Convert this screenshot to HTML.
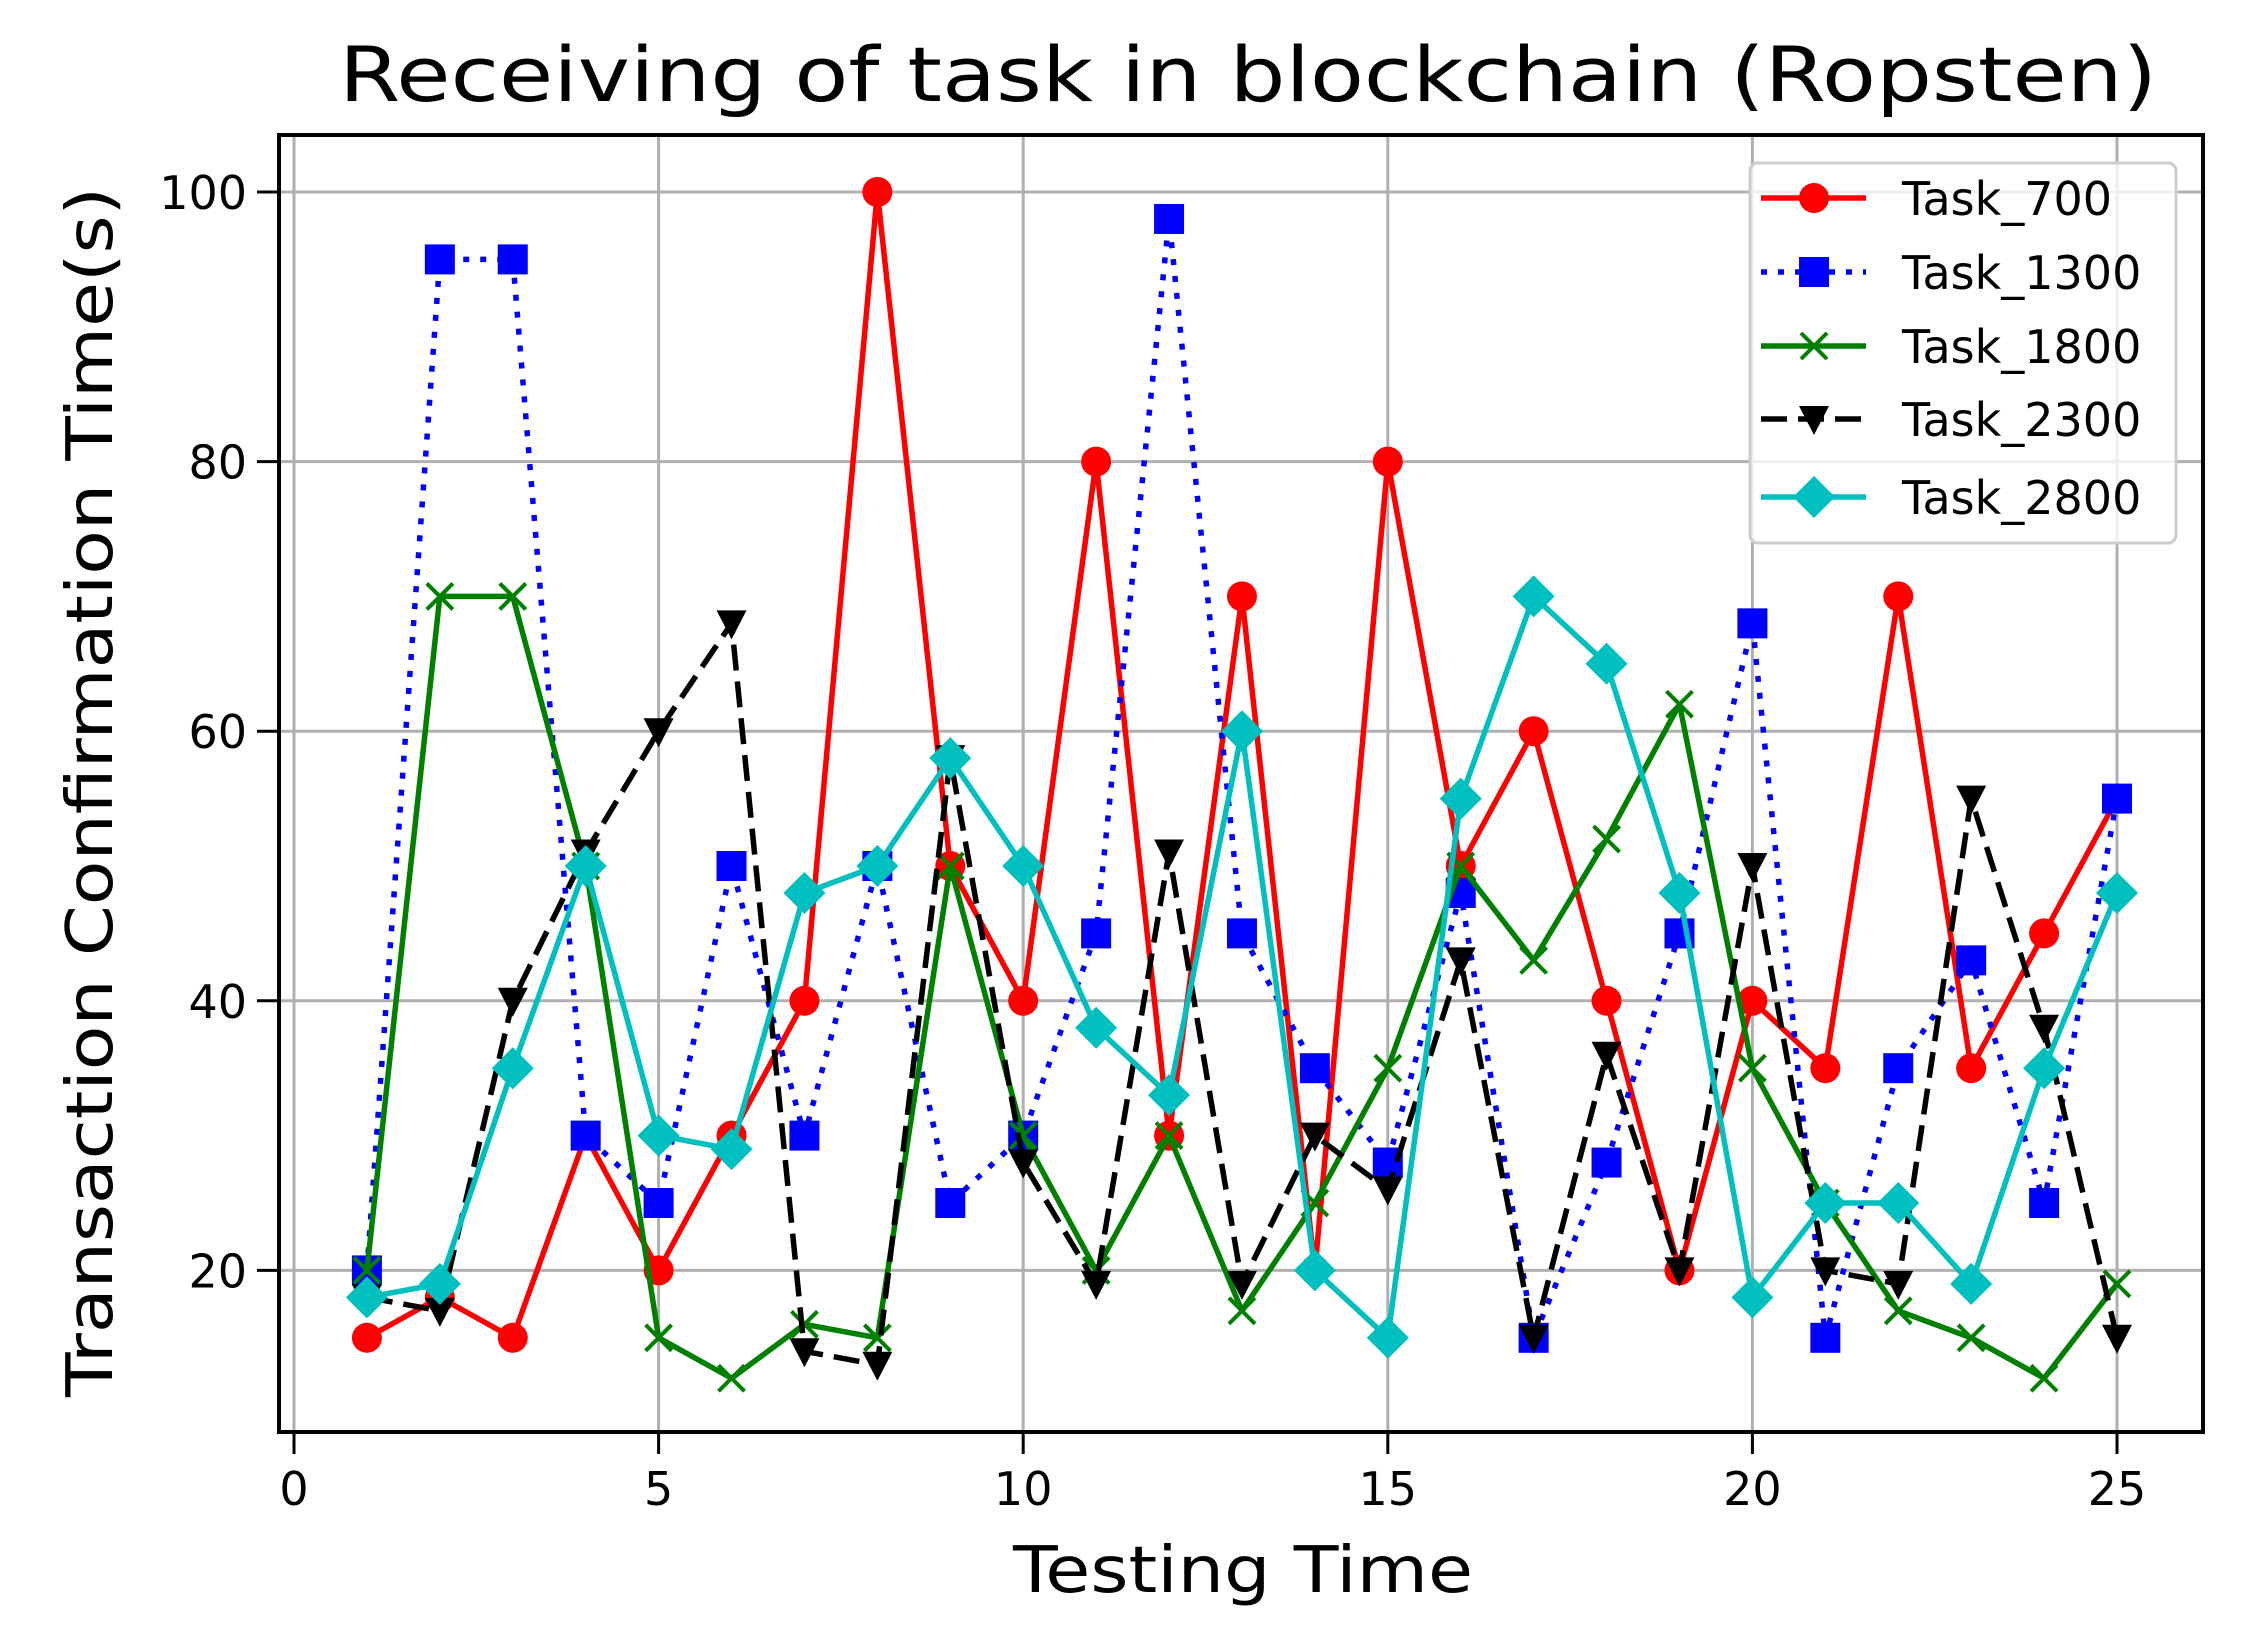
<!DOCTYPE html>
<html><head><meta charset="utf-8"><style>
html,body{margin:0;padding:0;background:#fff;}
svg{display:block;font-family:"DejaVu Sans","Liberation Sans",sans-serif;}
</style></head><body>
<svg id="s" width="2248" height="1626" viewBox="0 0 2248 1626" xmlns="http://www.w3.org/2000/svg">
<rect width="2248" height="1626" fill="#fff"/>
<text x="1248" y="101" font-size="76" text-anchor="middle" textLength="1818" lengthAdjust="spacingAndGlyphs">Receiving of task in blockchain (Ropsten)</text>
<g id="grid" stroke="#b0b0b0" stroke-width="3"></g>
<g id="series"></g>
<g id="axes"></g>
<text x="1243" y="1592" font-size="64" text-anchor="middle" textLength="460" lengthAdjust="spacingAndGlyphs">Testing Time</text>
<text transform="translate(112,792) rotate(-90)" font-size="64" text-anchor="middle" textLength="1210" lengthAdjust="spacingAndGlyphs">Transaction Confirmation Time(s)</text>
<g id="legend"></g>
</svg>
<script>
const NS="http://www.w3.org/2000/svg";
const X=v=>294+v*72.92, Y=v=>192+(100-v)*13.48;
const L=279,R=2203,T=135,B=1432;
function el(p,t,a,txt){const e=document.createElementNS(NS,t);for(const k in a)e.setAttribute(k,a[k]);if(txt!==undefined)e.textContent=txt;p.appendChild(e);return e;}
const g=document.getElementById('grid'),ax=document.getElementById('axes'),sr=document.getElementById('series'),lg=document.getElementById('legend');
for(let v=0;v<=25;v+=5){el(g,'line',{x1:X(v),x2:X(v),y1:T,y2:B});el(ax,'line',{x1:X(v),x2:X(v),y1:B,y2:B+22,stroke:'#000','stroke-width':3});el(ax,'text',{x:X(v),y:1505,'font-size':46,'text-anchor':'middle'},v);}
for(let v=20;v<=100;v+=20){el(g,'line',{x1:L,x2:R,y1:Y(v),y2:Y(v)});el(ax,'line',{x1:L-22,x2:L,y1:Y(v),y2:Y(v),stroke:'#000','stroke-width':3});el(ax,'text',{x:L-32,y:Y(v)+17,'font-size':46,'text-anchor':'end'},v);}
el(ax,'rect',{x:L,y:T,width:R-L,height:B-T,fill:'none',stroke:'#000','stroke-width':4});
const S=[
{n:'Task_700',c:'#ff0000',d:'',m:'o',v:[15,18,15,30,20,30,40,100,50,40,80,30,70,20,80,50,60,40,20,40,35,70,35,45,55]},
{n:'Task_1300',c:'#0000ff',d:'6 11',m:'s',v:[20,95,95,30,25,50,30,50,25,30,45,98,45,35,28,48,15,28,45,68,15,35,43,25,55]},
{n:'Task_1800',c:'#008000',d:'',m:'x',v:[20,70,70,50,15,12,16,15,50,30,20,30,17,25,35,50,43,52,62,35,25,17,15,12,19]},
{n:'Task_2300',c:'#000000',d:'26 11',m:'v',v:[18,17,40,51,60,68,14,13,58,28,19,51,19,30,26,43,15,36,20,50,20,19,55,38,15]},
{n:'Task_2800',c:'#00bfbf',d:'',m:'D',v:[18,19,35,50,30,29,48,50,58,50,38,33,60,20,15,55,70,65,48,18,25,25,19,35,48]}];
function mark(p,m,x,y,c){
 if(m=='o')el(p,'circle',{cx:x,cy:y,r:15,fill:c});
 else if(m=='s')el(p,'rect',{x:x-15,y:y-15,width:30,height:30,fill:c});
 else if(m=='x'){el(p,'path',{d:`M${x-13},${y-13}L${x+13},${y+13}M${x-13},${y+13}L${x+13},${y-13}`,stroke:c,'stroke-width':4});}
 else if(m=='v')el(p,'path',{d:`M${x-15},${y-13}L${x+15},${y-13}L${x},${y+16}Z`,fill:c});
 else if(m=='D')el(p,'path',{d:`M${x},${y-21}L${x+21},${y}L${x},${y+21}L${x-21},${y}Z`,fill:c});
}
S.forEach(s=>{const pts=s.v.map((v,i)=>X(i+1)+','+Y(v)).join(' ');
 const a={points:pts,fill:'none',stroke:s.c,'stroke-width':5.5,'stroke-linejoin':'round'};if(s.d)a['stroke-dasharray']=s.d;
 el(sr,'polyline',a);s.v.forEach((v,i)=>mark(sr,s.m,X(i+1),Y(v),s.c));});
el(lg,'rect',{x:1750,y:163,width:426,height:380,rx:8,fill:'#fff','fill-opacity':0.8,stroke:'#ccc','stroke-width':3});
const ys=[198,272,346,419,497];
S.forEach((s,i)=>{const y=ys[i];const a={x1:1761,x2:1866,y1:y,y2:y,stroke:s.c,'stroke-width':5.5};if(s.d)a['stroke-dasharray']=s.d;
 el(lg,'line',a);mark(lg,s.m,1814,y,s.c);el(lg,'text',{x:1902,y:y+17,'font-size':46},s.n);});
</script>
</body></html>
